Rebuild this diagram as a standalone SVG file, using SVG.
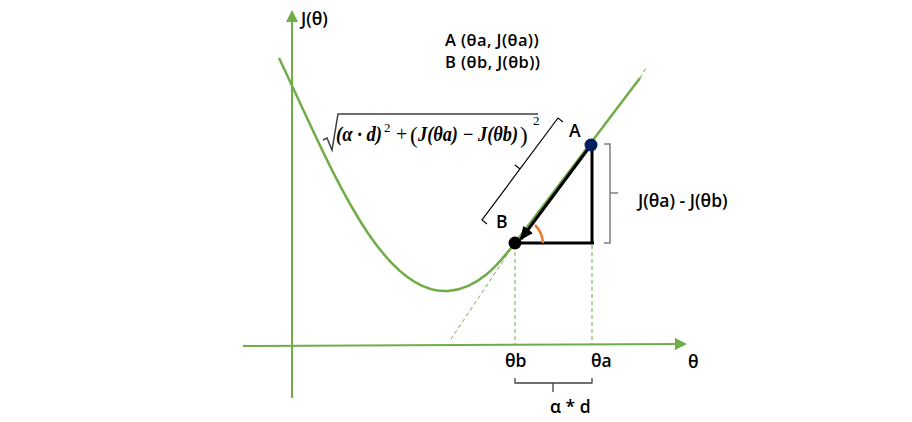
<svg xmlns="http://www.w3.org/2000/svg" width="912" height="422" viewBox="0 0 912 422">
<defs>
<marker id="ga" markerWidth="12" markerHeight="12" refX="10" refY="6" orient="auto" markerUnits="userSpaceOnUse"><path d="M0,0 L12,6 L0,12 z" fill="#70ad47"/></marker>
<marker id="ba" markerWidth="14" markerHeight="12" refX="12" refY="6" orient="auto" markerUnits="userSpaceOnUse"><path d="M0,0 L14,6 L0,12 z" fill="#000"/></marker>
<style>
.lbl{font-family:"Open Sans","Noto Sans","DejaVu Sans",sans-serif;font-size:17.5px;font-weight:600;fill:#000}
.leg{font-size:16.5px;letter-spacing:0.4px}
.math{font-family:"Liberation Serif","DejaVu Serif",serif;font-size:20px;fill:#000}
.bi{font-weight:bold;font-style:italic}
.green{stroke:#70ad47;fill:none}
.dash{stroke:#70ad47;fill:none;stroke-width:1;stroke-dasharray:4 3}
.thick{stroke:#000;stroke-width:3;fill:none}
.brk{stroke:#808080;stroke-width:1.5;fill:none}
</style>
</defs>
<rect width="912" height="422" fill="#fff"/>
<g id="axes">
<line class="green" x1="292" y1="398" x2="292" y2="12" stroke-width="2" marker-end="url(#ga)"/>
<line class="green" x1="243" y1="346" x2="685" y2="344" stroke-width="2" marker-end="url(#ga)"/>
<text class="lbl" x="301" y="25">J(θ)</text>
<text class="lbl" x="688" y="368">θ</text>
</g>
<g id="curve">
<path class="green" stroke-width="2.5" d="M279,58 C330,165 380,295 448,291 C478,289 498,265 515,243 L640,78"/>
<line class="dash" x1="640" y1="78" x2="646" y2="68"/>
<line class="dash" x1="515" y1="243" x2="451" y2="339"/>
</g>
<g id="connectors">
<line class="dash" x1="515" y1="245" x2="515" y2="344"/>
<line class="dash" x1="592" y1="245" x2="592" y2="344"/>
<line class="thick" x1="515" y1="243" x2="594" y2="243"/>
<line class="thick" x1="592" y1="145" x2="592" y2="244"/>
<line class="thick" x1="591" y1="145" x2="521" y2="239" marker-end="url(#ba)"/>
<path d="M535,225 A28,28 0 0 1 543,243" stroke="#ed7d31" stroke-width="2.5" fill="none"/>
</g>
<g id="pointA">
<circle cx="591" cy="145" r="6.5" fill="#002060"/>
<text class="lbl" x="569" y="137">A</text>
</g>
<g id="pointB">
<circle cx="515" cy="243" r="6.5" fill="#000"/>
<text class="lbl" x="496" y="228">B</text>
</g>
<g id="legend">
<text class="lbl leg" x="445" y="46">A (θa, J(θa))</text>
<text class="lbl leg" x="445" y="68">B (θb, J(θb))</text>
</g>
<g id="vbracket">
<path class="brk" d="M604,144 L610,144 L610,243 L604,243 M610,193 L618,193"/>
<text class="lbl" x="638" y="207">J(θa) - J(θb)</text>
</g>
<g id="hbracket">
<path d="M515,378 L515,383 L592,383 L592,378 M553,383 L553,392" stroke="#404040" stroke-width="1.3" fill="none"/>
<text class="lbl" x="505" y="367">θb</text>
<text class="lbl" x="591" y="367">θa</text>
<text class="lbl" x="550" y="413">α * d</text>
</g>
<g id="dbracket">
<path d="M487,224 L482,220 L558,118 L563,122 M520,169 L515,165" stroke="#000" stroke-width="1.2" fill="none"/>
</g>
<g id="formula">
<path d="M323,140 L327,138 L332,150 L338,114 L538,114" stroke="#404040" stroke-width="1.5" fill="none"/>
<text class="math"><tspan class="bi" x="336" y="141" textLength="46" lengthAdjust="spacingAndGlyphs">(α · d)</tspan><tspan x="384" y="132" font-size="13">2</tspan><tspan x="396" y="141">+</tspan><tspan x="410" y="143" font-size="23">(</tspan><tspan class="bi" x="418" y="141" textLength="100" lengthAdjust="spacingAndGlyphs">J(θa) − J(θb)</tspan><tspan x="520" y="143" font-size="23">)</tspan><tspan x="533" y="125" font-size="13">2</tspan></text>
</g>
</svg>
